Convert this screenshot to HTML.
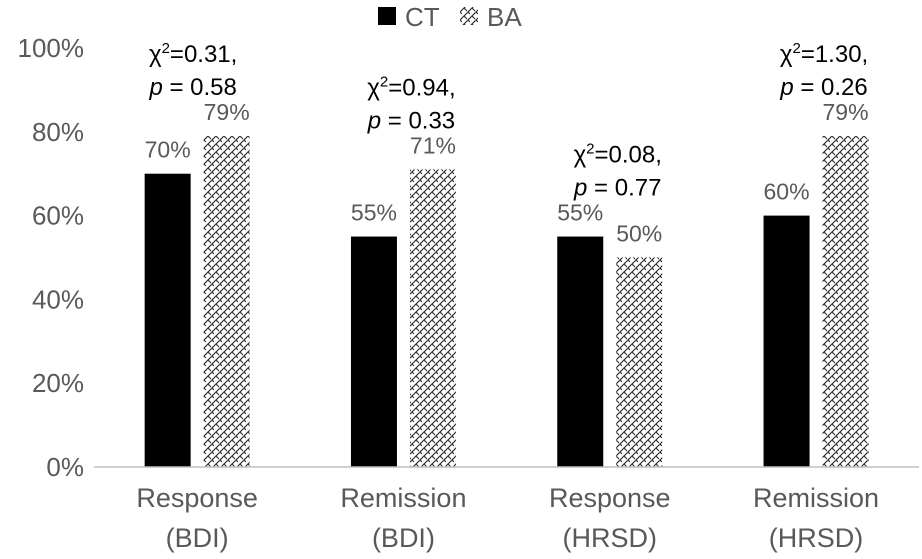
<!DOCTYPE html>
<html><head><meta charset="utf-8"><style>
body{margin:0;background:#fff;}
svg{display:block;font-family:"Liberation Sans",Arial,sans-serif;}
</style></head><body>
<svg id="chart" width="922" height="559" viewBox="0 0 922 559">
<defs>
<pattern id="hatch" patternUnits="userSpaceOnUse" width="8" height="8">
<rect width="8" height="8" fill="#fff"/>
<path d="M0,8 L8,0 M-2,2 L2,-2 M6,10 L10,6" stroke="#222" stroke-width="1.1"/>
<path d="M0,0 L3,3 M4,4 L6,6" stroke="#222" stroke-width="1"/>
</pattern>
</defs>
<g id="legend">
<rect x="378" y="7" width="18" height="18" fill="#000"/>
<text x="405" y="26" font-size="26" fill="#595959">CT</text>
<rect x="460" y="7" width="18" height="18" fill="url(#hatch)"/>
<text x="487" y="26" font-size="26" fill="#595959">BA</text>
</g>
<g id="yaxis"></g>
<g id="bars"></g>
<line x1="94" y1="467" x2="919" y2="467" stroke="#bfbfbf" stroke-width="1.5"/>
<g id="labels"></g>
</svg>
<script>
const categories1 = ["Response","Remission","Response","Remission"];
const categories2 = ["(BDI)","(BDI)","(HRSD)","(HRSD)"];
const ctValues = [70,55,55,60];
const baValues = [79,71,50,79];
const chiLabels = ["=0.31,","=0.94,","=0.08,","=1.30,"];
const pLabels = ["0.58","0.33","0.77","0.26"];
const yTicks = [0,20,40,60,80,100];
const NS="http://www.w3.org/2000/svg";
const y0=467, yTop=48, x0=94, catW=206.3, bw=46;
const yS=v=>y0-(v/100)*(y0-yTop);
const xC=i=>x0+catW*(i+0.5);
function mk(tag,attrs,parent,text){const e=document.createElementNS(NS,tag);for(const k in attrs)e.setAttribute(k,attrs[k]);if(text!==undefined)e.textContent=text;parent.appendChild(e);return e;}
const ya=document.getElementById('yaxis'),bars=document.getElementById('bars'),lb=document.getElementById('labels');
yTicks.forEach(t=>{
 const e=mk('text',{x:84,y:yS(t)+9,'font-size':26,'text-anchor':'end',fill:'#595959'},ya,t+'%');
 
 
});
categories1.forEach((c,i)=>{
 const cx=xC(i);
 const xa=cx-bw-6.5, xb=cx+6.5;
 const r1=mk('rect',{x:xa,y:yS(ctValues[i]),width:bw,height:y0-yS(ctValues[i]),fill:'#000'},bars);
 
 
 const r2=mk('rect',{x:xb,y:yS(baValues[i]),width:bw,height:y0-yS(baValues[i]),fill:'url(#hatch)'},bars);
 
 
 const v1=mk('text',{x:xa+bw/2,y:yS(ctValues[i])-16,'font-size':23,'text-anchor':'middle',fill:'#595959'},lb,ctValues[i]+'%');
 
 
 const v2=mk('text',{x:xb+bw/2,y:yS(baValues[i])-16,'font-size':23,'text-anchor':'middle',fill:'#595959'},lb,baValues[i]+'%');
 
 
 const pBase=yS(Math.max(ctValues[i],baValues[i]))-16-25;
 const ax=cx+(i===0?-4:8);
 const a1=mk('text',{x:ax,y:pBase-33,'font-size':24,'text-anchor':'middle',fill:'#000'},lb);
 
 
 mk('tspan',{},a1,'χ');
 mk('tspan',{'font-size':15,dy:-9},a1,'2');
 mk('tspan',{dy:9},a1,chiLabels[i]);
 const a2=mk('text',{x:ax,y:pBase,'font-size':24,'text-anchor':'middle',fill:'#000'},lb);
 
 
 mk('tspan',{'font-style':'italic'},a2,'p');
 mk('tspan',{},a2,' = '+pLabels[i]);
 const x1=mk('text',{x:cx,y:507,'font-size':27,'text-anchor':'middle',fill:'#595959'},lb,c);
 
 
 const x2=mk('text',{x:cx,y:547,'font-size':27,'text-anchor':'middle',fill:'#595959'},lb,categories2[i]);
 
 
});
</script>
</body></html>
